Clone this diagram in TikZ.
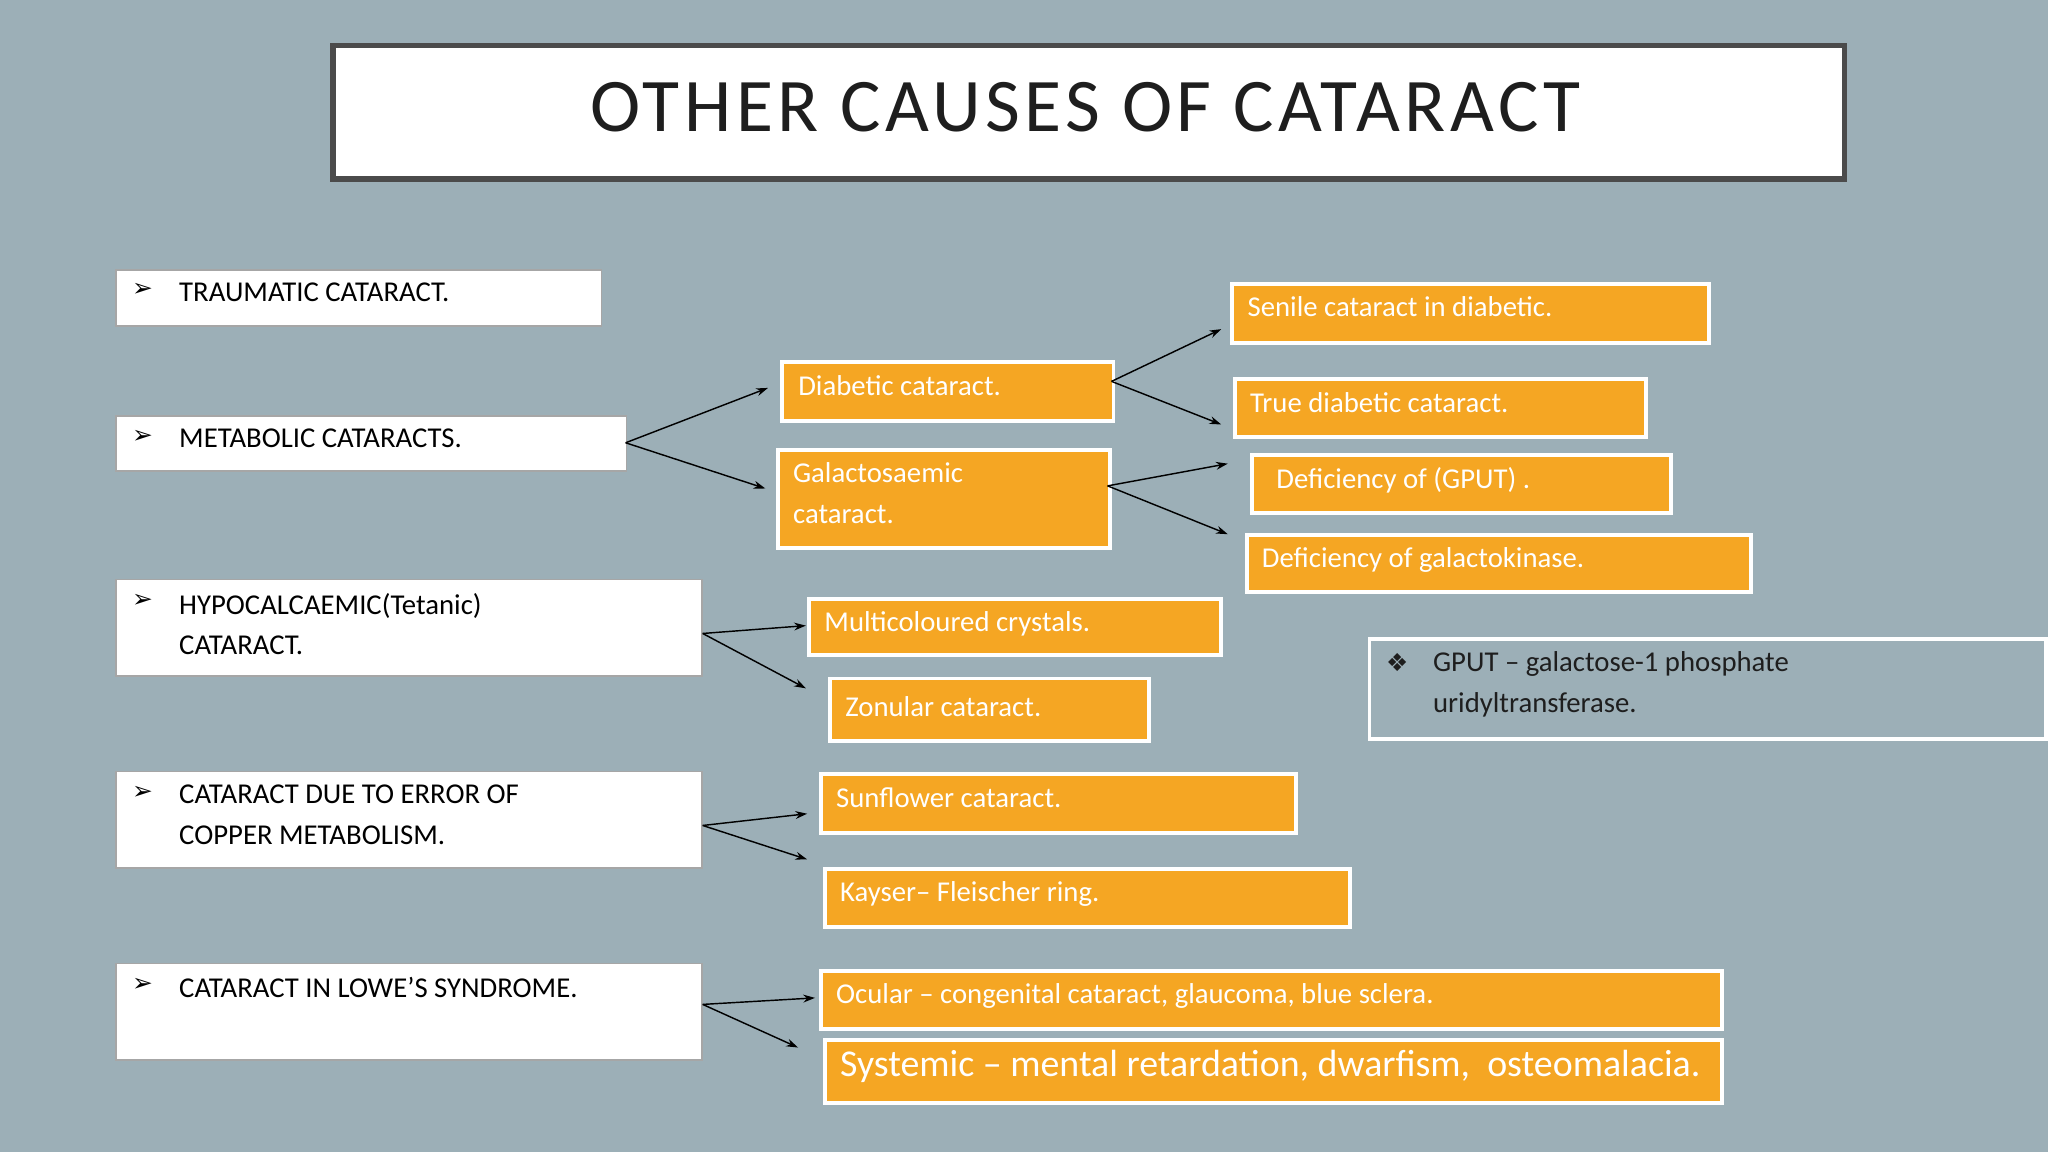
\documentclass[tikz,border=0pt]{standalone}
\usepackage{fontspec}
\setmainfont{Carlito}
\newfontfamily\djv{DejaVu Sans}
\usetikzlibrary{arrows.meta}
\definecolor{bg}{HTML}{9CAFB7}
\definecolor{org}{HTML}{F5A623}
\definecolor{ink}{HTML}{1E1E1E}
\tikzset{
 wbox/.style={draw=gray!70,line width=1.2pt,fill=white,anchor=north west,inner sep=0pt},
 obox/.style={draw=white,line width=3pt,fill=org,anchor=north west,inner sep=0pt},
 txt/.style={anchor=north west,inner sep=0pt,align=left,font=\fontsize{22}{31}\selectfont},
 arr/.style={-{Stealth[length=9pt,width=6pt]},line width=1.1pt,black}
}
\newcommand{\bx}[6]{\node[#1,minimum width=#4-#2,minimum height=#5-#3] (#6) at (#2,#3) {};}
\begin{document}
\begin{tikzpicture}[x=1pt,y=-1pt]
\fill[bg] (0,0) rectangle (1568,882);
\useasboundingbox (0,0) rectangle (1568,882);
% title
\node[draw=ink!80,line width=4pt,fill=white,minimum width=1157,minimum height=102,anchor=north west,inner sep=0pt] (title) at (253,33) {};
\node[font=\fontsize{58}{60}\selectfont\addfontfeature{LetterSpace=6},text=ink] (tt) at (831,82) {OTHER CAUSES OF CATARACT};
% left boxes
\bx{wbox}{88}{206}{460}{249}{t1}
\bx{wbox}{88}{318}{479}{360}{t2}
\bx{wbox}{88}{443}{537}{517}{t3}
\bx{wbox}{88}{590}{537}{664}{t4}
\bx{wbox}{88}{737}{537}{811}{t5}
\foreach \y/\t [count=\i] in {216/{TRAUMATIC CATARACT.},328/{METABOLIC CATARACTS.},454/{HYPOCALCAEMIC(Tetanic)\\CATARACT.},601/{CATARACT DUE TO ERROR OF\\COPPER METABOLISM.},748/{CATARACT IN LOWE’S SYNDROME.}}{
 \node[txt,text=black] (lt\i) at (137,\y) {\t};
 \node[anchor=north west,inner sep=0pt,font=\djv\fontsize{19}{22}\selectfont] (lb\i) at (101,\y+1) {➢};
}
% orange boxes
\bx{obox}{597}{276}{851}{321}{d}
\bx{obox}{594}{343}{848}{418}{g}
\bx{obox}{942}{216}{1307}{261}{s1}
\bx{obox}{944}{289}{1259}{333}{s2}
\bx{obox}{957}{347}{1278}{391}{g1}
\bx{obox}{953}{408}{1339}{452}{g2}
\bx{obox}{618}{457}{933}{500}{h1}
\bx{obox}{634}{518}{878}{566}{h2}
\bx{obox}{627}{591}{991}{636}{c1}
\bx{obox}{630}{664}{1032}{708}{c2}
\bx{obox}{627}{742}{1317}{786}{l1}
\bx{obox}{630}{795}{1317}{843}{l2}
\foreach \x/\y/\t [count=\i] in {611/287/{Diabetic cataract.},607/354/{Galactosaemic\\cataract.},955/227/{Senile cataract in diabetic.},957/300/{True diabetic cataract.},977/358/{Deficiency of (GPUT) .},966/419/{Deficiency of galactokinase.},631/468/{Multicoloured crystals.},647/533/{Zonular cataract.},640/603/{Sunflower cataract.},643/675/{Kayser– Fleischer ring.},640/753/{Ocular – congenital cataract, glaucoma, blue sclera.}}{
 \node[txt,text=white] (ot\i) at (\x,\y) {\t};
}
\node[txt,text=white,font=\fontsize{29}{31}\selectfont] (sys) at (643,804) {Systemic – mental retardation, dwarfism,\ \ osteomalacia.};
% GPUT note
\node[draw=white,line width=3pt,minimum width=518,minimum height=76,anchor=north west,inner sep=0pt] (gp) at (1047,488) {};
\node[txt,text=ink] (gpt) at (1097,499) {GPUT – galactose-1 phosphate\\uridyltransferase.};
\node[anchor=north west,inner sep=0pt,font=\djv\fontsize{19}{22}\selectfont,text=ink] (gpb) at (1061,500) {❖};
% arrows
\coordinate (a1) at (479,339); \coordinate (a2) at (851,292); \coordinate (a3) at (848,372);
\coordinate (a4) at (538,485); \coordinate (a5) at (538,632); \coordinate (a6) at (538,769);
\draw[arr] (a1) -- (588,297); \draw[arr] (a1) -- (586,374);
\draw[arr] (a2) -- (935,252); \draw[arr] (a2) -- (935,325);
\draw[arr] (a3) -- (940,355); \draw[arr] (a3) -- (940,409);
\draw[arr] (a4) -- (617,479); \draw[arr] (a4) -- (617,527);
\draw[arr] (a5) -- (618,623); \draw[arr] (a5) -- (618,658);
\draw[arr] (a6) -- (624,764); \draw[arr] (a6) -- (611,802);
\end{tikzpicture}
\end{document}
